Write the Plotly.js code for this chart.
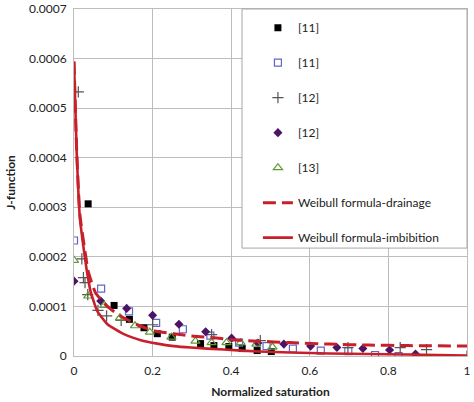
<!DOCTYPE html>
<html>
<head>
<meta charset="utf-8">
<script src="https://cdn.plot.ly/plotly-3.0.1.min.js"></script>
<style>
  html, body { margin: 0; padding: 0; background: #ffffff; }
  #chart { width: 474px; height: 402px; }
</style>
</head>
<body>
<div id="chart"></div>
<script>
// values, J-function in units of 1e-4
const blackSqX = [0.036, 0.102, 0.141, 0.178, 0.212, 0.25, 0.322, 0.356, 0.394, 0.428, 0.466, 0.502];
const blackSqY = [3.07, 1.02, 0.74, 0.57, 0.45, 0.38, 0.25, 0.21, 0.19, 0.15, 0.11, 0.09];

const openSqX = [0, 0.069, 0.14, 0.209, 0.277, 0.347, 0.42, 0.49, 0.557, 0.628, 0.698, 0.766, 0.826];
const openSqY = [2.33, 1.36, 0.9, 0.67, 0.54, 0.41, 0.27, 0.2, 0.15, 0.11, 0.1, 0.02, 0.0];

const crossX = [0.011, 0.02, 0.024, 0.028, 0.035, 0.061, 0.083, 0.12, 0.2, 0.35, 0.474, 0.697, 0.83, 0.897, 1.0];
const crossY = [5.33, 1.96, 1.58, 1.48, 1.24, 0.92, 0.81, 0.72, 0.63, 0.43, 0.31, 0.17, 0.17, 0.13, 0.0];

const diamondX = [0, 0.068, 0.134, 0.2, 0.267, 0.335, 0.401, 0.468, 0.534, 0.602, 0.669, 0.735, 0.803, 0.869];
const diamondY = [1.51, 1.11, 0.96, 0.82, 0.64, 0.49, 0.36, 0.26, 0.24, 0.2, 0.17, 0.15, 0.12, 0.04];

const triX = [0, 0.036, 0.077, 0.117, 0.155, 0.193, 0.248, 0.309, 0.35, 0.388, 0.424, 0.464, 0.505];
const triY = [1.93, 1.21, 1.02, 0.77, 0.61, 0.48, 0.38, 0.3, 0.27, 0.27, 0.27, 0.24, 0.18];

const drainX = [0, 0.0068, 0.015, 0.028, 0.036, 0.055, 0.085, 0.119, 0.17, 0.208, 0.254, 0.305, 0.356, 0.4, 0.468, 0.55, 0.65, 0.75, 0.85, 1.0];
const drainY = [5.94, 4.15, 2.85, 2.11, 1.71, 1.27, 1.0, 0.8, 0.6, 0.5, 0.45, 0.4, 0.37, 0.33, 0.3, 0.27, 0.24, 0.22, 0.21, 0.2];

const imbibX = [0, 0.0068, 0.015, 0.024, 0.032, 0.042, 0.059, 0.085, 0.127, 0.17, 0.212, 0.254, 0.297, 0.381, 0.47, 0.55, 0.65, 0.75, 0.85, 1.0];
const imbibY = [5.94, 4.12, 2.78, 2.2, 1.75, 1.31, 0.91, 0.64, 0.44, 0.32, 0.25, 0.2, 0.17, 0.13, 0.09, 0.07, 0.05, 0.04, 0.03, 0.01];

const xTickVals = [0, 0.2, 0.4, 0.6, 0.8, 1];
const xTickText = ['0', '0.2', '0.4', '0.6', '0.8', '1'];
const yTickVals = [0, 0.0001, 0.0002, 0.0003, 0.0004, 0.0005, 0.0006, 0.0007];
const yTickText = ['0', '0.0001', '0.0002', '0.0003', '0.0004', '0.0005', '0.0006', '0.0007'];

function scale(arr) {
    return arr.map(v => v * 1e-4);
}

const red = '#c8202a';
const font = 'Lato, "Open Sans", sans-serif';

function markerTrace(x, y, name, group, marker) {
    return {
        x: x,
        y: scale(y),
        mode: 'markers',
        type: 'scatter',
        name: name,
        legendgroup: group,
        marker: marker
    };
}

const traces = [
    markerTrace(blackSqX, blackSqY, '[11]', 'a', { symbol: 'square', size: 7, color: '#000000' }),
    markerTrace(openSqX, openSqY, '[11]', 'b', { symbol: 'square-open', size: 7, color: '#6464c8', line: { width: 1.2 } }),
    markerTrace(crossX, crossY, '[12]', 'c', { symbol: 'cross-thin-open', size: 8, color: '#555555', line: { width: 1.2, color: '#555555' } }),
    markerTrace(diamondX, diamondY, '[12]', 'd', { symbol: 'diamond', size: 7, color: '#4b1466' }),
    markerTrace(triX, triY, '[13]', 'e', { symbol: 'triangle-up-open', size: 8, color: '#5f9a35', line: { width: 1.2 } }),
    {
        x: drainX, y: scale(drainY), mode: 'lines', type: 'scatter',
        name: 'Weibull formula-drainage', legendgroup: 'f',
        line: { color: red, width: 3, dash: '13px,6px', shape: 'spline', smoothing: 0.5 }
    },
    {
        x: imbibX, y: scale(imbibY), mode: 'lines', type: 'scatter',
        name: 'Weibull formula-imbibition', legendgroup: 'g',
        line: { color: red, width: 2.6, shape: 'spline', smoothing: 0.5 }
    }
];

const layout = {
    width: 474,
    height: 402,
    margin: { l: 74, r: 7, t: 9, b: 46 },
    paper_bgcolor: '#ffffff',
    plot_bgcolor: '#ffffff',
    font: { family: font, size: 12, color: '#222222' },
    showlegend: true,
    xaxis: {
        range: [0, 1],
        tickvals: xTickVals,
        ticktext: xTickText,
        showgrid: true,
        gridcolor: '#bdbdbd',
        zeroline: false,
        showline: true,
        linecolor: '#bdbdbd',
        mirror: true,
        ticks: '',
        ticklabelstandoff: 4,
        title: { text: '<b>Normalized saturation</b>', font: { size: 12 }, standoff: 10 }
    },
    yaxis: {
        range: [0, 0.0007],
        tickvals: yTickVals,
        ticktext: yTickText,
        showgrid: true,
        gridcolor: '#bdbdbd',
        zeroline: false,
        showline: true,
        linecolor: '#bdbdbd',
        mirror: true,
        ticks: '',
        ticklabelstandoff: 4,
        ticklabeloverflow: 'allow',
        title: { text: '<b>J-function</b>', font: { size: 12 }, standoff: 10 }
    },
    shapes: [{
        type: 'rect', xref: 'paper', yref: 'paper',
        x0: 0.4275, x1: 1, y0: 0.311, y1: 1,
        fillcolor: '#ffffff', line: { color: '#a6a6a6', width: 1 },
        layer: 'above'
    }],
    legend: {
        x: 0.468, y: 0.988, xanchor: 'left', yanchor: 'top',
        bgcolor: 'rgba(0,0,0,0)', borderwidth: 0,
        tracegroupgap: 16,
        font: { family: font, size: 12, color: '#222222' }
    }
};

Plotly.newPlot('chart', traces, layout, { displayModeBar: false, staticPlot: true });
</script>
</body>
</html>
